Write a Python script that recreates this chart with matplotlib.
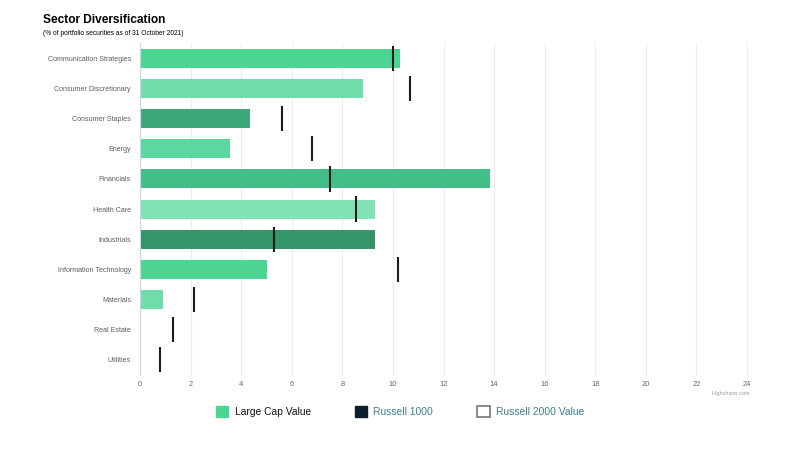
import matplotlib.pyplot as plt
from matplotlib.patches import Patch
import numpy as np

plt.rcParams['font.family'] = ['Liberation Sans', 'DejaVu Sans']

sectors = ["Communication Strategies", "Consumer Discretionary", "Consumer Staples",
           "Energy", "Financials", "Health Care", "Industrials",
           "Information Technology", "Materials", "Real Estate", "Utilities"]
large_cap = [10.28, 8.82, 4.36, 3.57, 13.83, 9.29, 9.29, 5.03, 0.89, 0.0, 0.0]
russell_1000 = [10.0, 10.67, 5.62, 6.80, 7.51, 8.54, 5.31, 10.20, 2.15, 1.32, 0.81]
bar_colors = ["#4cd493", "#70dcaa", "#3aa877", "#5ad89e", "#43be86", "#82e3b5",
              "#34946a", "#4cd493", "#70dcaa", "#70dcaa", "#70dcaa"]
xticks = [0, 2, 4, 6, 8, 10, 12, 14, 16, 18, 20, 22, 24]

fig = plt.figure(figsize=(8, 4.5), dpi=100)
ax = fig.add_axes([0.175, 0.167, 0.762, 0.737])

y = np.arange(len(sectors))
ax.barh(y, large_cap, height=0.63, color=bar_colors, zorder=2)
ax.vlines(russell_1000, y - 0.42, y + 0.42, color="#1c1c1c", linewidth=1.5, zorder=3)

ax.set_ylim(len(sectors) - 0.5, -0.5)
ax.set_xlim(0, 24.1)
ax.set_yticks(y)
ax.set_yticklabels(sectors, fontsize=5.1, color="#5e5e5e")
ax.set_xticks(xticks)
ax.set_xticklabels([str(t) for t in xticks], fontsize=5.4, color="#666666")
ax.tick_params(axis='y', length=0, pad=6.5)
ax.tick_params(axis='x', length=0, pad=4.5)
ax.grid(axis='x', color="#ececec", linewidth=0.8, zorder=0)
for s in ['top', 'right', 'bottom']:
    ax.spines[s].set_visible(False)
ax.spines['left'].set_color("#ccd6eb")
ax.spines['left'].set_linewidth(0.8)

fig.text(0.054, 0.949, "Sector Diversification", fontsize=8.6, fontweight='bold', color="#000000")
fig.text(0.054, 0.923, "(% of portfolio securities as of 31 October 2021)", fontsize=4.8, color="#000000")
fig.text(0.937, 0.122, "Highcharts.com", fontsize=4, color="#999999", ha='right')

handles = [Patch(facecolor="#4cd493", edgecolor="#4cd493"),
           Patch(facecolor="#0f1e2d", edgecolor="#0f1e2d"),
           Patch(facecolor="white", edgecolor="#777777", linewidth=1.2)]
leg = fig.legend(handles, ["Large Cap Value", "Russell 1000", "Russell 2000 Value"],
                 loc='center', bbox_to_anchor=(0.5, 0.085), ncol=3, frameon=False,
                 fontsize=7.4, handlelength=1.2, handleheight=1.2, handletextpad=0.6,
                 columnspacing=4.3)
for txt, c in zip(leg.get_texts(), ["#111111", "#3f7f8c", "#3f7f8c"]):
    txt.set_color(c)

fig.savefig("out.png", dpi=100)
